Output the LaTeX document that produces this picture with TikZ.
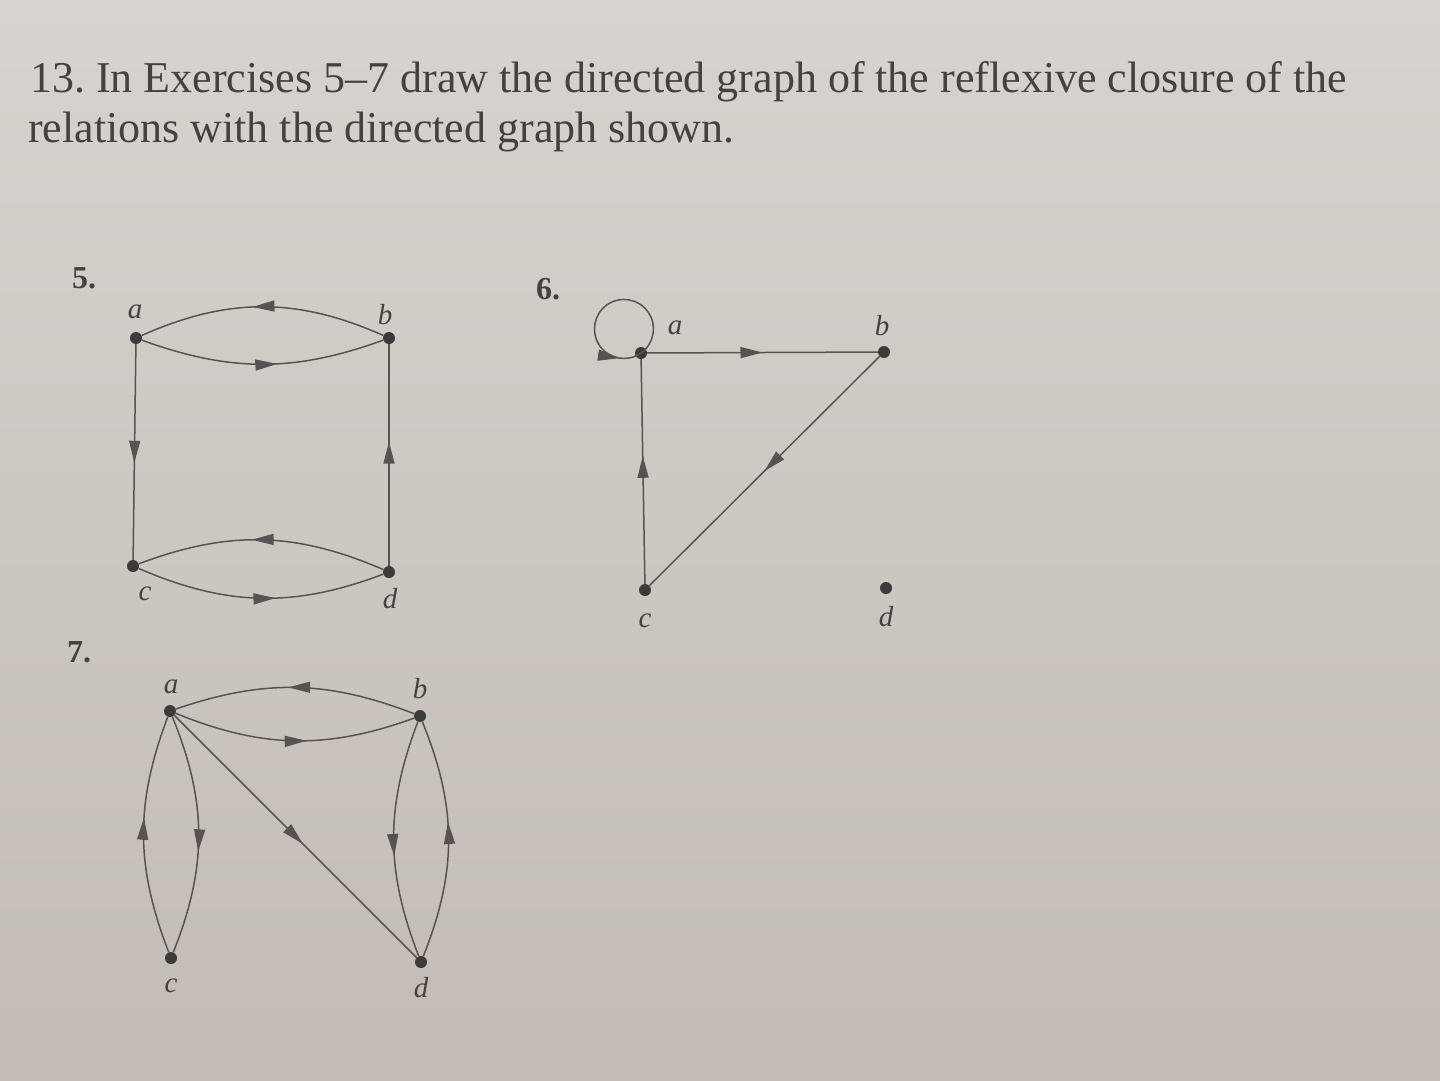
\documentclass[tikz,border=0pt]{standalone}
\usepackage{fontspec}
\setmainfont{Liberation Serif}
\usetikzlibrary{arrows.meta,decorations.markings}
\definecolor{papertop}{RGB}{216,211,206}
\definecolor{paperbot}{RGB}{194,187,182}
\definecolor{ink}{RGB}{70,65,62}
\definecolor{edge}{RGB}{88,83,80}
\definecolor{dotc}{RGB}{62,58,56}
\tikzset{
  vtx/.style={circle,fill=dotc,inner sep=0pt,minimum size=12pt},
  vlab/.style={text=ink,font=\fontsize{29}{31}\selectfont\itshape,inner sep=0pt},
  exnum/.style={text=ink,font=\fontsize{32}{36}\selectfont\bfseries,inner sep=0pt,anchor=base west},
  heading/.style={text=ink,font=\fontsize{44}{52}\selectfont,inner sep=0pt,anchor=base west},
  edg/.style={draw=edge,line width=1.5pt},
  midarrow/.style={edg,postaction={decorate},decoration={markings,
     mark=at position #1 with {\arrow[edge]{Triangle[length=22pt,width=11pt]}}}},
  midarrow/.default=0.53
}
\begin{document}
\frenchspacing
\begin{tikzpicture}[x=1pt,y=-1pt]
\path[use as bounding box] (0,0) rectangle (1440,1080);
\shade[top color=papertop,bottom color=paperbot] (0,0) rectangle (1440,1080);

% heading
\node[heading] (h1) at (30,92) {13. In Exercises 5--7 draw the directed graph of the reflexive closure of the};
\node[heading] (h2) at (28,142) {relations with the directed graph shown.};

% exercise numbers
\node[exnum] (n5) at (72,288) {5.};
\node[exnum] (n6) at (536,299) {6.};
\node[exnum] (n7) at (67,662) {7.};

% ---- graph 5 ----
\node[vtx] (a5) at (136,338) {};
\node[vtx] (b5) at (389,338) {};
\node[vtx] (c5) at (133,566) {};
\node[vtx] (d5) at (389,572) {};
\node[vlab] (la5) at (135,312) {a};
\node[vlab] (lb5) at (385,315) {b};
\node[vlab] (lc5) at (145,594) {c};
\node[vlab] (ld5) at (390,599) {d};
\draw[midarrow=0.54] (b5) to[bend right=24] (a5);
\draw[midarrow=0.56] (a5) to[bend right=20] (b5);
\draw[midarrow=0.55] (a5) -- (c5);
\draw[midarrow=0.56] (d5) -- (b5);
\draw[midarrow=0.54] (d5) to[bend right=22] (c5);
\draw[midarrow=0.56] (c5) to[bend right=22] (d5);

% ---- graph 6 ----
\node[vtx] (a6) at (641,353) {};
\node[vtx] (b6) at (884,352) {};
\node[vtx] (c6) at (645,590) {};
\node[vtx] (d6) at (886,588) {};
\node[vlab] (la6) at (675,328) {a};
\node[vlab] (lb6) at (882,326) {b};
\node[vlab] (lc6) at (645,621) {c};
\node[vlab] (ld6) at (886,617) {d};
\draw[midarrow=0.88] (a6.center) arc[start angle=54.7,end angle=-305.3,radius=29.5];
\draw[midarrow=0.5] (a6) -- (b6);
\draw[midarrow=0.57] (c6) -- (a6);
\draw[midarrow=0.5] (b6) -- (c6);

% ---- graph 7 ----
\node[vtx] (a7) at (170,711) {};
\node[vtx] (b7) at (420,716) {};
\node[vtx] (c7) at (171,958) {};
\node[vtx] (d7) at (421,962) {};
\node[vlab] (la7) at (171,687) {a};
\node[vlab] (lb7) at (420,689) {b};
\node[vlab] (lc7) at (171,986) {c};
\node[vlab] (ld7) at (421,988) {d};
\draw[midarrow=0.53] (b7) to[bend right=20] (a7);
\draw[midarrow=0.55] (a7) to[bend right=21] (b7);
\draw[midarrow=0.57] (c7) to[bend left=21] (a7);
\draw[midarrow=0.57] (a7) to[bend left=22] (c7);
\draw[midarrow=0.53] (a7) -- (d7);
\draw[midarrow=0.57] (b7) to[bend right=21] (d7);
\draw[midarrow=0.57] (d7) to[bend right=22] (b7);
\end{tikzpicture}
\end{document}
